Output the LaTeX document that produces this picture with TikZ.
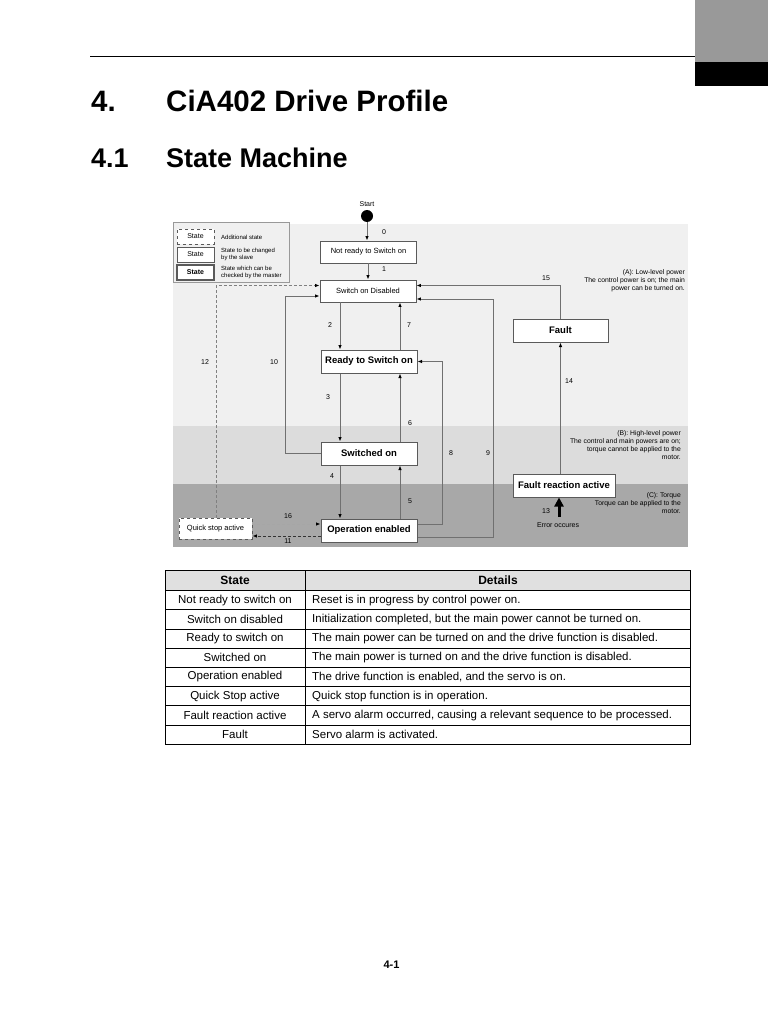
\documentclass[tikz,border=0pt]{standalone}
\usepackage{fontspec}
\setmainfont{Liberation Sans}
\usetikzlibrary{arrows.meta}
\definecolor{bandA}{RGB}{240,240,240}
\definecolor{bandB}{RGB}{220,220,220}
\definecolor{bandC}{RGB}{168,168,168}
\definecolor{tabhead}{RGB}{224,224,224}
\definecolor{tabgray}{RGB}{153,153,153}
\definecolor{wire}{RGB}{112,112,112}
\definecolor{rim}{RGB}{90,90,90}
\newcommand{\pxfont}[2]{\fontsize{#1}{#2}\selectfont}

\begin{document}
\begin{tikzpicture}[x=1pt,y=-1pt,
  state/.style={draw=rim,fill=white,line width=0.9pt,inner sep=0pt,minimum width=96pt,minimum height=22pt,font=\pxfont{7.5}{9}},
  mstate/.style={state,line width=1pt,minimum height=23pt,font=\bfseries\pxfont{9.5}{11}},
  qstate/.style={state,dashed,minimum width=73pt,minimum height=21pt},
  keybox/.style={draw=rim,fill=white,inner sep=0pt,minimum width=37pt,minimum height=15pt,font=\pxfont{7}{8}},
  keytext/.style={font=\pxfont{6}{7.5},align=left,anchor=west,inner sep=0pt},
  lbl/.style={font=\pxfont{7}{8},inner sep=0pt},
  note/.style={font=\pxfont{6.8}{8},align=right,anchor=north east,inner sep=0pt},
  arr/.style={draw=wire,line width=0.9pt,-{Latex[length=4.5pt,width=3.5pt,color=black]}},
  darr/.style={arr,dashed,dash pattern=on 3pt off 2pt},
  cell/.style={font=\pxfont{11.5}{13},inner sep=0pt}]
  \useasboundingbox (0,0) rectangle (768,1024);

  \fill[tabgray] (695,0) rectangle (768,62);
  \fill (695,62) rectangle (768,86);
  \draw[line width=1pt] (90,56.5) -- (695,56.5);
  \node[anchor=base west,inner sep=0pt,font=\bfseries\pxfont{29.5}{31}] (chapnum) at (91,112) {4.};
  \node[anchor=base west,inner sep=0pt,font=\bfseries\pxfont{29.5}{31}] (chaptitle) at (166,112) {CiA402 Drive Profile};
  \node[anchor=base west,inner sep=0pt,font=\bfseries\pxfont{27}{29}] (secnum) at (91,168) {4.1};
  \node[anchor=base west,inner sep=0pt,font=\bfseries\pxfont{27}{29}] (sectitle) at (166,168) {State Machine};

  \fill[bandA] (173,224) rectangle (688,426);
  \fill[bandB] (173,426) rectangle (688,484);
  \fill[bandC] (173,484) rectangle (688,547);

  \node[draw=tabgray,line width=1pt,fill=bandA,minimum width=116pt,minimum height=59pt,inner sep=0pt] (legend) at (231,252.5) {};
  \node[keybox,dashed] (keyA) at (195.5,236.5) {State};
  \node[keybox] (keyB) at (195.5,254.5) {State};
  \node[keybox,line width=1.3pt,font=\bfseries\pxfont{7}{8}] (keyC) at (195.5,272.5) {State};
  \node[keytext] (txtA) at (221,237) {Additional state};
  \node[keytext] (txtB) at (221,254.5) {State to be changed\\by the slave};
  \node[keytext] (txtC) at (221,272.5) {State which can be\\checked by the master};

  \node[note] (noteA) at (685,269) {(A): Low-level power\\The control power is on; the main\\power can be turned on.};
  \node[note] (noteB) at (681,430) {(B): High-level power\\The control and main powers are on;\\torque cannot be applied to the\\motor.};
  \node[note] (noteC) at (681,492) {(C): Torque\\Torque can be applied to the\\motor.};

  \node[circle,fill=black,inner sep=0pt,minimum size=12pt] (start) at (367,216) {};
  \node[lbl] (startlbl) at (367,204) {Start};
  \node[state] (nr) at (368.5,252) {Not ready to Switch on};
  \node[state] (sod) at (368,291) {Switch on Disabled};
  \node[mstate] (rso) at (369,361.5) {Ready to Switch on};
  \node[mstate] (so) at (369,453.5) {Switched on};
  \node[mstate] (oe) at (369,530.5) {Operation enabled};
  \node[mstate,minimum width=95pt] (fault) at (560.5,330.5) {Fault};
  \node[mstate,minimum width=102pt] (fra) at (564,485.5) {Fault reaction active};
  \node[qstate] (qsa) at (215.5,528.5) {Quick stop active};

  \coordinate (colL) at (340,0);
  \coordinate (colR) at (400,0);
  \coordinate (k10) at (285,296);
  \coordinate (k12) at (216,285.5);
  \coordinate (k16) at (0,524);
  \coordinate (k11) at (0,536);
  \coordinate (k8) at (442,524);
  \coordinate (k9) at (493,537);
  \coordinate (k9top) at (0,299);
  \coordinate (k15) at (0,285.5);
  \coordinate (err) at (559,517);

  \draw[arr] (start.south) -- (start.south |- nr.north);
  \draw[arr] (nr.south -| sod) -- (sod.north);
  \draw[arr] (sod.south -| colL) -- (rso.north -| colL);
  \draw[arr] (rso.north -| colR) -- (sod.south -| colR);
  \draw[arr] (rso.south -| colL) -- (so.north -| colL);
  \draw[arr] (so.north -| colR) -- (rso.south -| colR);
  \draw[arr] (so.south -| colL) -- (oe.north -| colL);
  \draw[arr] (oe.north -| colR) -- (so.south -| colR);
  \draw[arr] (so.west) -| (k10) -- (k10 -| sod.west);
  \draw[darr,draw=gray] (qsa.north -| k12) -- (k12) -- (k12 -| sod.west);
  \draw[darr,draw=black!35] (qsa.east |- k16) -- (oe.west |- k16);
  \draw[darr,draw=black!80] (oe.west |- k11) -- (qsa.east |- k11);
  \draw[arr] (oe.east |- k8) -| (k8 |- rso.east) -- (rso.east);
  \draw[arr] (oe.east |- k9) -| (k9 |- k9top) -- (k9top -| sod.east);
  \draw[arr] (fault.north) -- (fault.north |- k15) -- (k15 -| sod.east);
  \draw[arr] (fra.north -| fault) -- (fault.south);
  \draw[line width=3pt,-{Triangle[length=9pt,width=9pt]}] (err) -- (err |- fra.south);

  \foreach \t/\x/\y in {0/384/232,1/384/269,2/330/325,7/409/325,3/328/397,6/410/423,
      4/332/476,5/410/501,10/274/362,12/205/362,8/451/453,9/488/453,
      15/546/278,14/569/381,16/288/516,11/288/541,13/546/511}
    \node[lbl] (num\t) at (\x,\y) {\t};
  \node[lbl] (errtxt) at (558,525) {Error occures};

  \fill[tabhead] (165,570) rectangle (690,590.5);
  \foreach \y in {590.5,609.7,628.9,648.1,667.3,686.5,724.9}
    \draw[line width=0.8pt] (165,\y) -- (690,\y);
  \draw[line width=1.4pt] (165,705.7) -- (690,705.7);
  \draw[line width=1pt] (305,570) -- (305,744.1);
  \draw[line width=1pt] (165,570) rectangle (690,744.1);
  \node[font=\bfseries\pxfont{12}{14},inner sep=0pt] (hstate) at (235,580.5) {State};
  \node[font=\bfseries\pxfont{12}{14},inner sep=0pt] (hdetail) at (498,580.5) {Details};
  \foreach \s/\d [count=\i] in {Not ready to switch on/{Reset is in progress by control power on.},
      Switch on disabled/{Initialization completed, but the main power cannot be turned on.},
      Ready to switch on/{The main power can be turned on and the drive function is disabled.},
      Switched on/{The main power is turned on and the drive function is disabled.},
      Operation enabled/{The drive function is enabled, and the servo is on.},
      Quick Stop active/{Quick stop function is in operation.},
      Fault reaction active/{A servo alarm occurred, causing a relevant sequence to be processed.},
      Fault/{Servo alarm is activated.}}
  {
    \node[cell] (st\i) at (235,{580.9+19.2*\i}) {\s};
    \node[cell,anchor=west] (dt\i) at (312,{580.9+19.2*\i}) {\d};
  }

  \node[font=\bfseries\pxfont{11}{13},inner sep=0pt] (pagenum) at (391.5,965) {4-1};
\end{tikzpicture}
\end{document}
